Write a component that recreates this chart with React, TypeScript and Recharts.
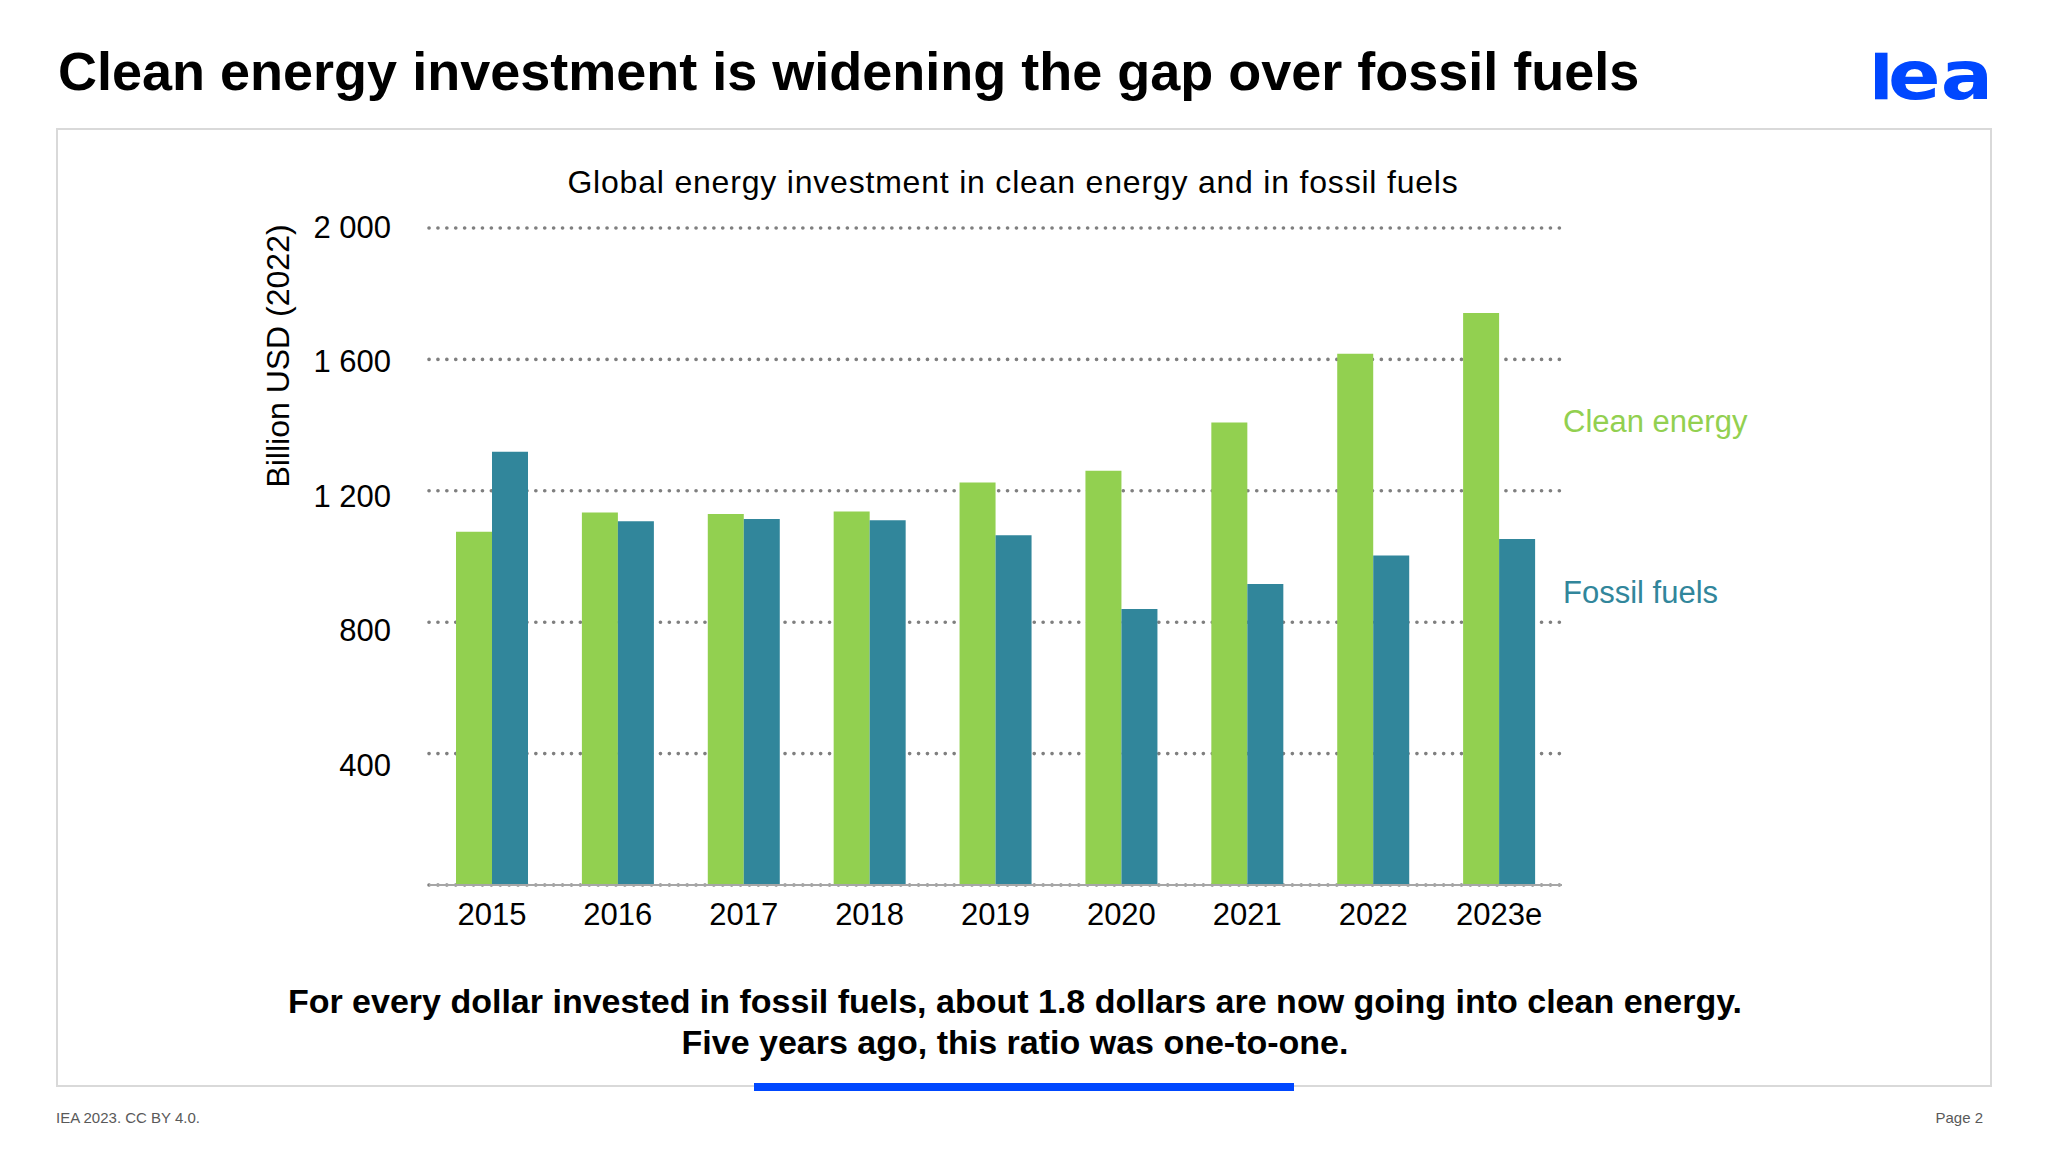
import React from 'react';
import { BarChart, Bar, XAxis, YAxis, CartesianGrid } from 'recharts';

const years = ['2015', '2016', '2017', '2018', '2019', '2020', '2021', '2022', '2023e'];
const cleanEnergy = [1075, 1134, 1129, 1137, 1225, 1261, 1408, 1617, 1741];
const fossilFuels = [1319, 1107, 1114, 1110, 1065, 840, 916, 1003, 1053];
const yTicks = [400, 800, 1200, 1600, 2000];
const seriesNames = ['Clean energy', 'Fossil fuels'];
const seriesColors = ['#92D050', '#31869B'];

const title = 'Clean energy investment is widening the gap over fossil fuels';
const subtitle = 'Global energy investment in clean energy and in fossil fuels';
const yLabel = 'Billion USD (2022)';
const noteLines = [
  'For every dollar invested in fossil fuels, about 1.8 dollars are now going into clean energy.',
  'Five years ago, this ratio was one-to-one.',
];
const footerLeft = 'IEA 2023. CC BY 4.0.';
const footerRight = 'Page 2';

const data = years.map((y, i) => ({ year: y, clean: cleanEnergy[i], fossil: fossilFuels[i] }));

const FONT = '"Liberation Sans", Arial, Helvetica, sans-serif';
const BLUE = '#0047FF';

const fmt = (v: number) =>
  v >= 1000 ? `${Math.floor(v / 1000)} ${String(v % 1000).padStart(3, '0')}` : String(v);

const YTick = (props: any) => {
  const { x, y, payload } = props;
  const v = payload.value as number;
  const off = ((2000 - v) / 400) * 3 - 1;
  return (
    <text x={x} y={y + off} dy="0.355em" textAnchor="end" fontSize={31} fill="#000" fontFamily={FONT}>
      {fmt(v)}
    </text>
  );
};

export default function App() {
  return (
    <div style={{ position: 'absolute', left: 0, top: 0, width: 2048, height: 1152, background: '#fff', fontFamily: FONT }}>
      <div style={{ position: 'absolute', left: 0, top: 0 }}>
        <BarChart
          width={2048}
          height={1152}
          data={data}
          margin={{ top: 228, right: 486, bottom: 207, left: 329 }}
          barGap={0}
          barSize={36}
        >
          <CartesianGrid
            vertical={false}
            stroke="#7f7f7f"
            strokeWidth={3.6}
            strokeDasharray="0.1 8.8"
            strokeLinecap="round"
          />
          <XAxis
            dataKey="year"
            height={60}
            axisLine={{ stroke: '#a6a6a6', strokeWidth: 2 }}
            tickLine={false}
            tickSize={0}
            tickMargin={18}
            tick={{ fontSize: 31, fill: '#000', fontFamily: FONT }}
            interval={0}
          />
          <YAxis
            width={100}
            domain={[0, 2000]}
            ticks={yTicks}
            axisLine={false}
            tickLine={false}
            tickSize={0}
            tickMargin={38}
            tick={<YTick />}
            interval={0}
          />
          <Bar dataKey="clean" name={seriesNames[0]} fill={seriesColors[0]} isAnimationActive={false} />
          <Bar dataKey="fossil" name={seriesNames[1]} fill={seriesColors[1]} isAnimationActive={false} />
        </BarChart>
      </div>
      <svg
        width={2048}
        height={1152}
        style={{ position: 'absolute', left: 0, top: 0, pointerEvents: 'none' }}
        fontFamily={FONT}
      >
        <text x={58} y={90} fontSize={54} fontWeight={700} fill="#000">{title}</text>
        {/* logo */}
        <rect x={1875} y={52.7} width={12.5} height={46.6} fill={BLUE} />
        <text
          x={1888}
          y={99.3}
          fontSize={68}
          fontWeight={700}
          fill={BLUE}
          fontFamily='"DejaVu Sans", sans-serif'
          textLength={105}
          lengthAdjust="spacingAndGlyphs"
        >
          ea
        </text>
        {/* frame */}
        <rect x={57} y={129} width={1934} height={957} fill="none" stroke="#d9d9d9" strokeWidth={2} />
        <rect x={754} y={1083} width={540} height={8} fill={BLUE} />
        <text x={1013} y={193} fontSize={32} textAnchor="middle" fill="#000" letterSpacing={0.8}>{subtitle}</text>
        <text
          x={278}
          y={356}
          fontSize={32}
          textAnchor="middle"
          dominantBaseline="central"
          fill="#000"
          transform="rotate(-90 278 356)"
        >
          {yLabel}
        </text>
        <text x={1563} y={432} fontSize={31} fill={seriesColors[0]}>{seriesNames[0]}</text>
        <text x={1563} y={603} fontSize={31} fill={seriesColors[1]}>{seriesNames[1]}</text>
        {noteLines.map((l, i) => (
          <text key={i} x={1015} y={1013 + i * 41} fontSize={34} fontWeight={700} textAnchor="middle" fill="#000">
            {l}
          </text>
        ))}
        <text x={56} y={1123} fontSize={15} fill="#595959">{footerLeft}</text>
        <text x={1983} y={1123} fontSize={15} fill="#595959" textAnchor="end">{footerRight}</text>
      </svg>
    </div>
  );
}
